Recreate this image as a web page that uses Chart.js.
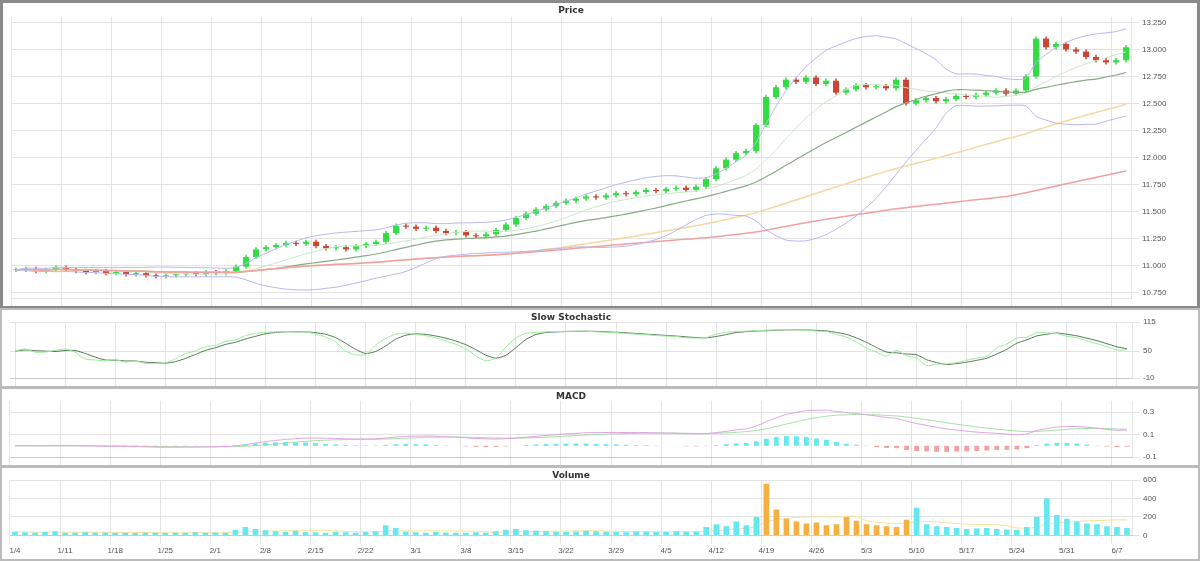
<!DOCTYPE html>
<html>
<head>
<meta charset="utf-8">
<script src="https://cdn.jsdelivr.net/npm/chart.js@4.4.1/dist/chart.umd.min.js"></script>
<style>
  body { margin: 0; background: #fff; font-family: "DejaVu Sans", sans-serif; }
  .pane { position: absolute; left: 0; width: 1200px; border: 3px solid #8a8a8a; box-sizing: border-box; background: #fff; }
  #p1 { top: 0; height: 309px; }
  #p2 { top: 308px; height: 80px; border-width: 2px; border-color: #bbb; }
  #p3 { top: 387px; height: 80px; border-width: 2px; border-color: #bbb; }
  #p4 { top: 466px; height: 95px; border-width: 2px; border-color: #bbb; }
</style>
</head>
<body>
<div class="pane" id="p1"><canvas id="priceChart"></canvas></div>
<div class="pane" id="p2"><canvas id="stochChart"></canvas></div>
<div class="pane" id="p3"><canvas id="macdChart"></canvas></div>
<div class="pane" id="p4"><canvas id="volChart"></canvas></div>
<script>
// closing prices
const closes = [10.96,10.97,10.95,10.96,10.98,10.96,10.95,10.94,
  10.95,10.93,10.94,10.92,10.93,10.91,10.90,10.91,10.92,10.93,10.92,10.94,10.93,10.95,
  10.99,11.08,11.15,11.17,
  11.19,11.21,11.2,11.22,11.18,11.16,11.17,11.15,11.18,11.2,11.22,
  11.3,11.37,
  11.36,11.34,11.35,11.32,11.3,11.31,11.28,11.27,11.29,
  11.33,11.38,11.44,11.48,11.52,11.55,
  11.58,11.6,11.62,11.64,11.63,11.65,
  11.67,11.66,11.68,11.7,11.69,11.71,11.72,11.7,11.73,
  11.8,11.9,11.98,12.04,12.06,
  12.3,12.56,
  12.65,12.72,12.7,12.74,12.68,12.71,
  12.6,12.63,12.67,12.65,12.66,12.64,
  12.72,12.5,
  12.53,12.55,12.52,12.54,12.57,12.56,12.58,12.6,12.62,12.59,
  12.62,12.75,
  13.1,13.02,13.05,13.0,12.98,
  12.93,12.9,12.88,12.9,
  13.02];
// volume (thousands)
const volumes = [40,35,30,38,42,30,28,35,30,32,28,30,25,28,30,26,30,28,35,30,32,30,
  60,90,70,55,45,40,50,38,35,30,40,35,30,38,45,110,80,40,35,30,38,32,30,28,35,30,
  45,60,70,55,50,45,40,38,42,50,45,40,38,35,42,40,36,38,45,40,42,
  90,120,100,150,110,200,560,280,180,150,130,140,110,120,200,160,120,110,100,90,
  170,300,120,100,90,80,70,75,80,70,65,60,90,200,400,220,180,150,130,120,100,90,80,70,60,50];
const priceTicks = [10.75,11.0,11.25,11.5,11.75,12.0,12.25,12.5,12.75,13.0,13.25];

// open = previous close, wicks a little past the body
const opens = closes.map((c, i) => i === 0 ? c : closes[i - 1]);
const highs = closes.map((c, i) => Math.max(c, opens[i]) + 0.02);
const lows = closes.map((c, i) => Math.min(c, opens[i]) - 0.02);

const labels = [];
let d = new Date(2021, 0, 4);
while (labels.length < closes.length) {
  if (d.getDay() > 0 && d.getDay() < 6) labels.push((d.getMonth() + 1) + '/' + d.getDate());
  d.setDate(d.getDate() + 1);
}

function sma(arr, n) {
  return arr.map((v, i) => {
    const s = arr.slice(Math.max(0, i - n + 1), i + 1);
    return s.reduce((a, b) => a + b, 0) / s.length;
  });
}
function ema(arr, n) {
  const k = 2 / (n + 1); let e = arr[0];
  return arr.map(v => (e = v * k + e * (1 - k)));
}
const ma20 = sma(closes, 20), ma50 = sma(closes, 50), ma100 = sma(closes, 100), ma10 = sma(closes, 10);
const bbUp = ma20.map((m, i) => {
  const s = closes.slice(Math.max(0, i - 19), i + 1);
  const sd = Math.sqrt(s.reduce((a, b) => a + (b - m) ** 2, 0) / s.length);
  return m + 2 * sd;
});
const bbDn = ma20.map((m, i) => 2 * m - bbUp[i]);
const kRaw = closes.map((c, i) => {
  const h = Math.max(...highs.slice(Math.max(0, i - 8), i + 1));
  const l = Math.min(...lows.slice(Math.max(0, i - 8), i + 1));
  return 100 * (c - l) / (h - l);
});
const kSlow = sma(kRaw, 3), dSlow = sma(kSlow, 3);
const macd = ema(closes, 12).map((v, i) => v - ema(closes, 26)[i]);
const signal = ema(macd, 9);
const hist = macd.map((v, i) => v - signal[i]);

const upC = '#33dd44', dnC = '#cc4433';
const candleColors = closes.map((c, i) => c >= opens[i] ? upC : dnC);
const gridC = '#e3e3e3';

function baseOpts(showX) {
  return {
    responsive: false, animation: false,
    plugins: { legend: { display: false }, tooltip: { enabled: false } },
    layout: { padding: { left: 8, right: 4, top: 0, bottom: 0 } },
    scales: {
      x: { offset: true,
        grid: { color: ctx => ctx.index % 5 === 0 ? gridC : 'rgba(0,0,0,0)' },
        ticks: { display: showX, autoSkip: false, maxRotation: 0, font: { size: 8 }, color: '#555',
          callback: (v, i) => i % 5 === 0 ? labels[i] : '' } },
      y: { position: 'right', grid: { color: gridC }, ticks: { font: { size: 8 }, color: '#555' }, afterFit: s => { s.width = 62; } }
    }
  };
}
function titlePlugin(text) {
  return { id: 't' + text, afterDraw(c) {
    const ctx = c.ctx; ctx.save(); ctx.font = 'bold 9px DejaVu Sans'; ctx.fillStyle = '#333';
    ctx.textAlign = 'center'; ctx.fillText(text, c.chartArea.left + c.chartArea.width / 2, 10); ctx.restore();
  } };
}
function line(data, color, w) {
  return { type: 'line', data, borderColor: color, borderWidth: w || 1, pointRadius: 0, tension: 0.2 };
}
function setup(id, w, h) { const el = document.getElementById(id); el.width = w; el.height = h; return el; }

// price pane
const pOpts = baseOpts(false);
pOpts.scales.y.min = 10.7; pOpts.scales.y.max = 13.3;
pOpts.scales.y.afterBuildTicks = s => { s.ticks = priceTicks.map(v => ({ value: v })); };
pOpts.scales.y.ticks.callback = v => v.toFixed(3);
pOpts.layout.padding.top = 14;
new Chart(setup('priceChart', 1194, 303), {
  type: 'bar',
  data: { labels, datasets: [
    line(bbUp, '#b8b8ee'), line(bbDn, '#b8b8ee'),
    line(ma100, '#f0a0a0', 1.5), line(ma50, '#f5d8a0', 1.5), line(ma20, '#88aa88', 1.2), line(ma10, '#c8e8c8'),
    { data: closes.map((c, i) => [lows[i], highs[i]]), backgroundColor: candleColors, barPercentage: 0.15, categoryPercentage: 1, grouped: false },
    { data: closes.map((c, i) => [opens[i], c === opens[i] ? c + 0.005 : c]), backgroundColor: candleColors, barPercentage: 0.6, categoryPercentage: 1, grouped: false }
  ] },
  options: pOpts,
  plugins: [titlePlugin('Price')]
});

// stochastic pane
const sOpts = baseOpts(false);
sOpts.scales.y.min = -10; sOpts.scales.y.max = 115;
sOpts.layout.padding.top = 12;
new Chart(setup('stochChart', 1196, 76), {
  type: 'line',
  data: { labels, datasets: [line(kSlow, '#99ee99'), line(dSlow, '#557755')] },
  options: sOpts,
  plugins: [titlePlugin('Slow Stochastic')]
});

// MACD pane
const mOpts = baseOpts(false);
mOpts.layout.padding.top = 12;
new Chart(setup('macdChart', 1196, 76), {
  type: 'bar',
  data: { labels, datasets: [
    { data: hist, backgroundColor: hist.map(v => v >= 0 ? '#66e8f0' : '#f4a0a0'), barPercentage: 0.6 },
    line(macd, '#e0a0e0'), line(signal, '#a0e0a0')
  ] },
  options: mOpts,
  plugins: [titlePlugin('MACD')]
});

// volume pane
const vOpts = baseOpts(true);
vOpts.layout.padding.top = 12;
vOpts.scales.y.min = 0;
new Chart(setup('volChart', 1196, 91), {
  type: 'bar',
  data: { labels, datasets: [
    { data: volumes, backgroundColor: volumes.map((v, i) => i > 74 && i < 90 ? '#f4b040' : '#66e8f0'), barPercentage: 0.7 },
    line(sma(volumes, 10), '#f8e090')
  ] },
  options: vOpts,
  plugins: [titlePlugin('Volume')]
});
</script>
</body>
</html>
